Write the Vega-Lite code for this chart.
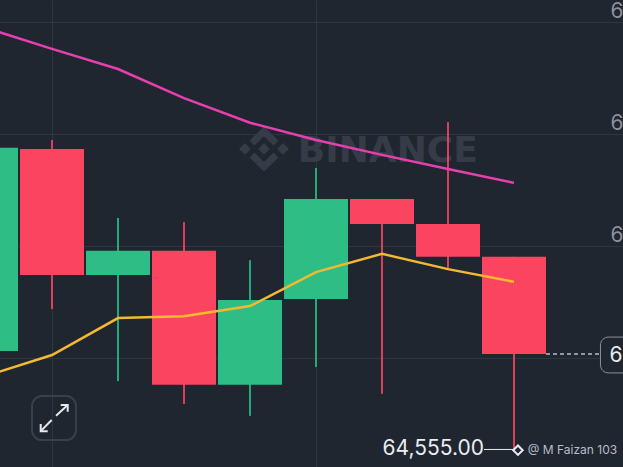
{
  "$schema": "https://vega.github.io/schema/vega-lite/v6.json",
  "width": 623,
  "height": 467,
  "padding": 0,
  "autosize": {"type": "none"},
  "background": "#1f2630",
  "view": {"stroke": null, "fill": "#1f2630"},
  "config": {"font": "Inter"},
  "datasets": {
    "candles": [
      {"i": 0, "top": 65363, "bottom": 64819, "high": 65363, "low": 64819, "dir": "up"},
      {"i": 1, "top": 65360, "bottom": 65022, "high": 65384, "low": 64931, "dir": "down"},
      {"i": 2, "top": 65087, "bottom": 65022, "high": 65175, "low": 64738, "dir": "up"},
      {"i": 3, "top": 65087, "bottom": 64728, "high": 65164, "low": 64677, "dir": "down"},
      {"i": 4, "top": 64955, "bottom": 64728, "high": 65062, "low": 64645, "dir": "up"},
      {"i": 5, "top": 65226, "bottom": 64958, "high": 65309, "low": 64776, "dir": "up"},
      {"i": 6, "top": 65226, "bottom": 65159, "high": 65226, "low": 64704, "dir": "down"},
      {"i": 7, "top": 65159, "bottom": 65071, "high": 65432, "low": 65041, "dir": "down"},
      {"i": 8, "top": 65071, "bottom": 64811, "high": 65071, "low": 64555, "dir": "down"}
    ],
    "ma": [
      {"i": 0, "price": 65684, "line": "slow"},
      {"i": 1, "price": 65628, "line": "slow"},
      {"i": 2, "price": 65574, "line": "slow"},
      {"i": 3, "price": 65496, "line": "slow"},
      {"i": 4, "price": 65430, "line": "slow"},
      {"i": 5, "price": 65384, "line": "slow"},
      {"i": 6, "price": 65344, "line": "slow"},
      {"i": 7, "price": 65306, "line": "slow"},
      {"i": 8, "price": 65269, "line": "slow"},
      {"i": 0, "price": 64752, "line": "fast"},
      {"i": 1, "price": 64808, "line": "fast"},
      {"i": 2, "price": 64907, "line": "fast"},
      {"i": 3, "price": 64912, "line": "fast"},
      {"i": 4, "price": 64939, "line": "fast"},
      {"i": 5, "price": 65030, "line": "fast"},
      {"i": 6, "price": 65079, "line": "fast"},
      {"i": 7, "price": 65038, "line": "fast"},
      {"i": 8, "price": 65004, "line": "fast"}
    ],
    "logoLines": [
      {"i": 4.03, "price": 65376, "part": "top", "n": 1},
      {"i": 4.212, "price": 65407, "part": "top", "n": 2},
      {"i": 4.394, "price": 65376, "part": "top", "n": 3},
      {"i": 4.03, "price": 65344, "part": "bottom", "n": 1},
      {"i": 4.212, "price": 65312, "part": "bottom", "n": 2},
      {"i": 4.394, "price": 65344, "part": "bottom", "n": 3}
    ],
    "logoDots": [
      {"i": 3.924, "price": 65360},
      {"i": 4.212, "price": 65360},
      {"i": 4.5, "price": 65360}
    ],
    "arrows": [
      {"i": 1.061, "price": 64645, "part": "a", "n": 1},
      {"i": 1.238, "price": 64674, "part": "a", "n": 2},
      {"i": 1.132, "price": 64674, "part": "b", "n": 1},
      {"i": 1.238, "price": 64674, "part": "b", "n": 2},
      {"i": 1.238, "price": 64656, "part": "b", "n": 3},
      {"i": 0.995, "price": 64634, "part": "c", "n": 1},
      {"i": 0.829, "price": 64604, "part": "c", "n": 2},
      {"i": 0.829, "price": 64623, "part": "d", "n": 1},
      {"i": 0.829, "price": 64604, "part": "d", "n": 2},
      {"i": 0.935, "price": 64604, "part": "d", "n": 3}
    ]
  },
  "layer": [
    {
      "data": {"values": [{"i": 4.21, "price": 65355, "label": "BINANCE"}]},
      "mark": {"type": "text", "font": "DejaVu Sans", "fontWeight": "bold", "fontSize": 36, "color": "#363c47", "align": "left", "dx": 34, "baseline": "middle"},
      "encoding": {
        "x": {
          "field": "i",
          "type": "quantitative",
          "scale": {"domain": [0.2121, 9.6515], "nice": false, "zero": false, "padding": 0},
          "axis": {"title": null, "values": [1, 5], "labels": false, "ticks": false, "domain": false, "grid": true, "gridColor": "#30363f", "gridWidth": 1}
        },
        "y": {
          "field": "price",
          "type": "quantitative",
          "scale": {"domain": [64508, 65758.9], "nice": false, "zero": false},
          "axis": {"title": null, "orient": "right", "offset": -13, "values": [64500, 64800, 65100, 65400, 65700], "labelExpr": "'6'", "ticks": false, "domain": false, "grid": true, "gridColor": "#30363f", "gridWidth": 1, "labelPadding": 0, "labelAlign": "left", "labelFontSize": 21, "labelFont": "Inter", "labelColor": "#8b929c", "labelOffset": -10, "labelBound": false, "labelOverlap": false}
        },
        "text": {"field": "label"}
      }
    },
    {
      "data": {"name": "logoLines"},
      "mark": {"type": "line", "color": "#363c47", "strokeWidth": 7},
      "encoding": {
        "x": {"field": "i", "type": "quantitative"},
        "y": {"field": "price", "type": "quantitative"},
        "detail": {"field": "part"},
        "order": {"field": "n"}
      }
    },
    {
      "data": {"name": "logoDots"},
      "mark": {"type": "point", "shape": "diamond", "filled": true, "size": 140, "color": "#363c47", "opacity": 1},
      "encoding": {
        "x": {"field": "i", "type": "quantitative"},
        "y": {"field": "price", "type": "quantitative"}
      }
    },
    {
      "data": {"name": "candles"},
      "mark": {"type": "rule", "strokeWidth": 2, "opacity": 0.85, "clip": true},
      "encoding": {
        "x": {"field": "i", "type": "quantitative"},
        "y": {"field": "high", "type": "quantitative"},
        "y2": {"field": "low"},
        "color": {"field": "dir", "type": "nominal", "legend": null, "scale": {"domain": ["up", "down"], "range": ["#2ebd85", "#fb4560"]}}
      }
    },
    {
      "data": {"name": "candles"},
      "mark": {"type": "bar", "size": 64, "clip": true},
      "encoding": {
        "x": {"field": "i", "type": "quantitative"},
        "y": {"field": "top", "type": "quantitative"},
        "y2": {"field": "bottom"},
        "color": {"field": "dir", "type": "nominal", "legend": null}
      }
    },
    {
      "data": {"name": "ma"},
      "transform": [{"filter": "datum.line == 'slow'"}],
      "mark": {"type": "line", "color": "#e83fae", "strokeWidth": 2.5, "clip": true},
      "encoding": {
        "x": {"field": "i", "type": "quantitative"},
        "y": {"field": "price", "type": "quantitative"}
      }
    },
    {
      "data": {"name": "ma"},
      "transform": [{"filter": "datum.line == 'fast'"}],
      "mark": {"type": "line", "color": "#f3ba2f", "strokeWidth": 2.5, "clip": true},
      "encoding": {
        "x": {"field": "i", "type": "quantitative"},
        "y": {"field": "price", "type": "quantitative"}
      }
    },
    {
      "data": {"values": [{"i": 8.485, "i2": 9.3, "price": 64811}]},
      "mark": {"type": "rule", "color": "#b7bdc6", "strokeWidth": 1.5, "strokeDash": [4, 3]},
      "encoding": {
        "x": {"field": "i", "type": "quantitative"},
        "x2": {"field": "i2"},
        "y": {"field": "price", "type": "quantitative"}
      }
    },
    {
      "data": {"values": [{"i": 9.31, "i2": 9.9, "price": 64856, "price2": 64760}]},
      "mark": {"type": "rect", "fill": "#1f2630", "stroke": "#8b929c", "strokeWidth": 1, "cornerRadius": 8, "clip": true},
      "encoding": {
        "x": {"field": "i", "type": "quantitative"},
        "x2": {"field": "i2"},
        "y": {"field": "price", "type": "quantitative"},
        "y2": {"field": "price2"}
      }
    },
    {
      "data": {"values": [{"i": 9.31, "price": 64805, "label": "6"}]},
      "mark": {"type": "text", "font": "Inter", "fontSize": 21, "color": "#eaecef", "align": "left", "baseline": "middle", "dx": 9},
      "encoding": {
        "x": {"field": "i", "type": "quantitative"},
        "y": {"field": "price", "type": "quantitative"},
        "text": {"field": "label"}
      }
    },
    {
      "data": {"values": [{"i": 7.545, "i2": 8, "price": 64555}]},
      "mark": {"type": "rule", "color": "#eaecef", "strokeWidth": 1},
      "encoding": {
        "x": {"field": "i", "type": "quantitative"},
        "x2": {"field": "i2"},
        "y": {"field": "price", "type": "quantitative"}
      }
    },
    {
      "data": {"values": [{"i": 7.545, "price": 64555, "label": "64,555.00"}]},
      "mark": {"type": "text", "font": "Inter", "fontSize": 21, "color": "#eaecef", "align": "right", "baseline": "middle"},
      "encoding": {
        "x": {"field": "i", "type": "quantitative"},
        "y": {"field": "price", "type": "quantitative"},
        "text": {"field": "label"}
      }
    },
    {
      "data": {"values": [{"i": 8.06, "price": 64553}]},
      "mark": {"type": "point", "shape": "diamond", "filled": false, "size": 90, "color": "#eaecef", "strokeWidth": 2, "opacity": 1},
      "encoding": {
        "x": {"field": "i", "type": "quantitative"},
        "y": {"field": "price", "type": "quantitative"}
      }
    },
    {
      "data": {"values": [{"i": 8.21, "price": 64553, "label": "@ M Faizan 103"}]},
      "mark": {"type": "text", "font": "Inter", "fontSize": 12, "color": "#b7bdc6", "align": "left", "baseline": "middle"},
      "encoding": {
        "x": {"field": "i", "type": "quantitative"},
        "y": {"field": "price", "type": "quantitative"},
        "text": {"field": "label"}
      }
    },
    {
      "data": {"values": [{"i": 0.697, "i2": 1.364, "price": 64698, "price2": 64580}]},
      "mark": {"type": "rect", "fill": "#1f2630", "fillOpacity": 0, "stroke": "#3a404a", "strokeWidth": 2, "cornerRadius": 10},
      "encoding": {
        "x": {"field": "i", "type": "quantitative"},
        "x2": {"field": "i2"},
        "y": {"field": "price", "type": "quantitative"},
        "y2": {"field": "price2"}
      }
    },
    {
      "data": {"name": "arrows"},
      "mark": {"type": "line", "color": "#e6e8ea", "strokeWidth": 2},
      "encoding": {
        "x": {"field": "i", "type": "quantitative"},
        "y": {"field": "price", "type": "quantitative"},
        "detail": {"field": "part"},
        "order": {"field": "n"}
      }
    }
  ]
}
